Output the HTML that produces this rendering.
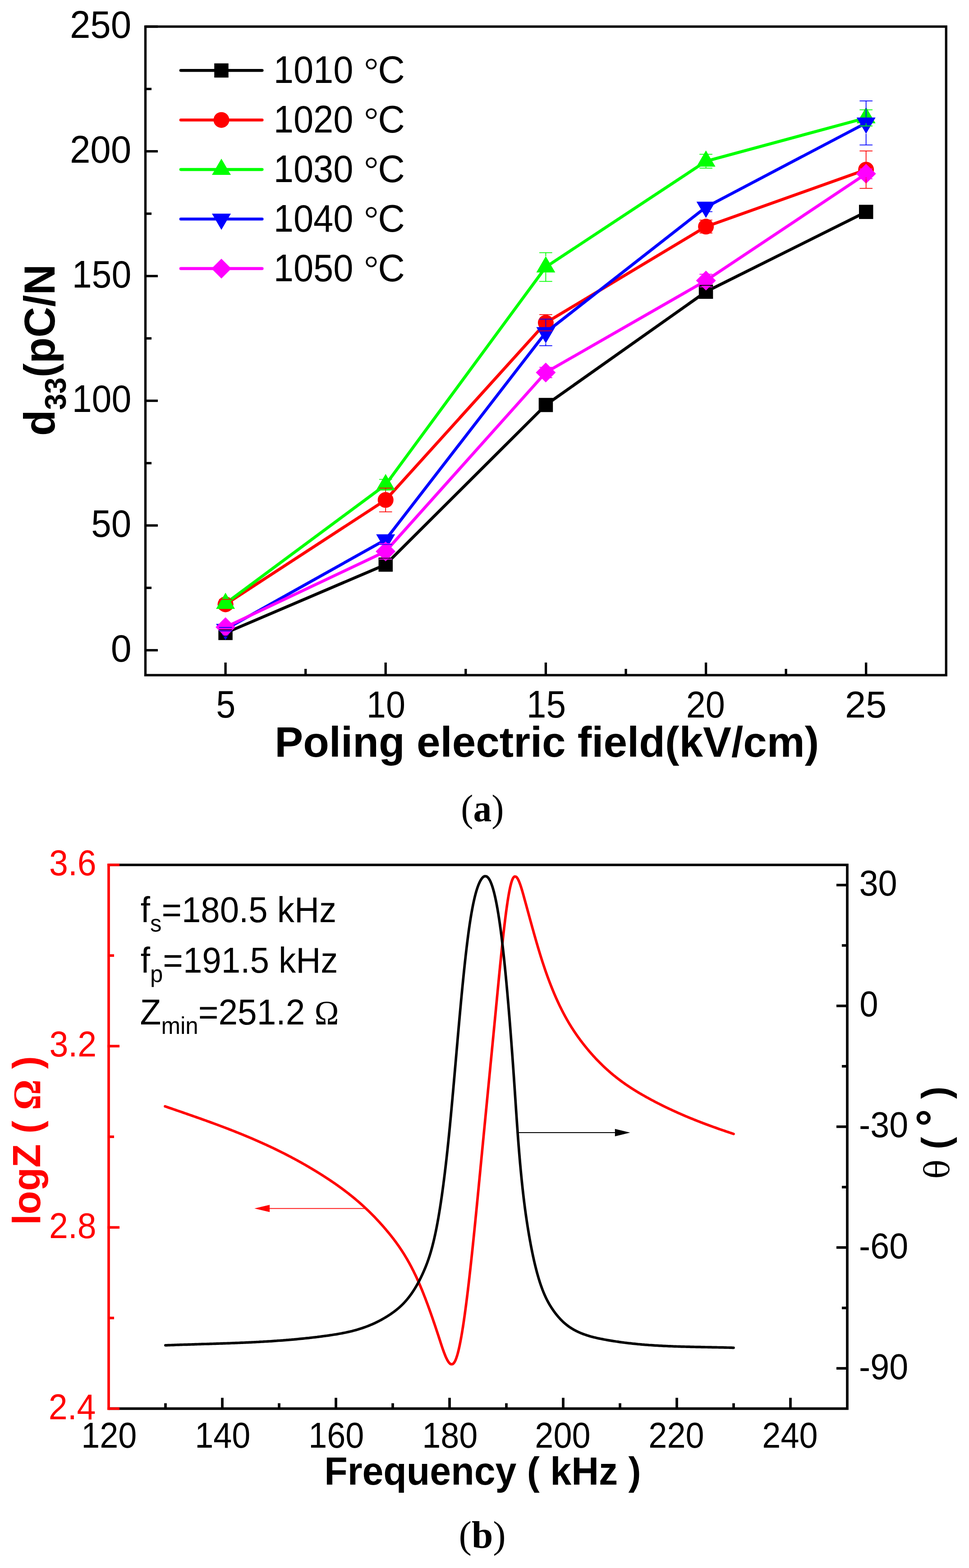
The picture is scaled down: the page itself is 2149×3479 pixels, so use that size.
<!DOCTYPE html>
<html><head><meta charset="utf-8"><title>Figure</title>
<style>html,body{margin:0;padding:0;background:#fff;}svg{display:block;}</style>
</head><body>
<svg width="2149" height="3479" viewBox="0 0 2149 3479">
<rect width="2149" height="3479" fill="#fff"/>
<rect x="322.5" y="59.0" width="1775.8" height="1439.0" fill="none" stroke="#000" stroke-width="5.3"/>
<line x1="322.5" y1="1442.7" x2="350.0" y2="1442.7" stroke="#000" stroke-width="5.3"/>
<line x1="322.5" y1="1165.9" x2="350.0" y2="1165.9" stroke="#000" stroke-width="5.3"/>
<line x1="322.5" y1="889.2" x2="350.0" y2="889.2" stroke="#000" stroke-width="5.3"/>
<line x1="322.5" y1="612.5" x2="350.0" y2="612.5" stroke="#000" stroke-width="5.3"/>
<line x1="322.5" y1="335.7" x2="350.0" y2="335.7" stroke="#000" stroke-width="5.3"/>
<line x1="322.5" y1="59.0" x2="350.0" y2="59.0" stroke="#000" stroke-width="5.3"/>
<line x1="322.5" y1="1304.3" x2="336.0" y2="1304.3" stroke="#000" stroke-width="5.3"/>
<line x1="322.5" y1="1027.6" x2="336.0" y2="1027.6" stroke="#000" stroke-width="5.3"/>
<line x1="322.5" y1="750.8" x2="336.0" y2="750.8" stroke="#000" stroke-width="5.3"/>
<line x1="322.5" y1="474.1" x2="336.0" y2="474.1" stroke="#000" stroke-width="5.3"/>
<line x1="322.5" y1="197.4" x2="336.0" y2="197.4" stroke="#000" stroke-width="5.3"/>
<line x1="500.1" y1="1498.0" x2="500.1" y2="1470.0" stroke="#000" stroke-width="5.3"/>
<line x1="855.2" y1="1498.0" x2="855.2" y2="1470.0" stroke="#000" stroke-width="5.3"/>
<line x1="1210.4" y1="1498.0" x2="1210.4" y2="1470.0" stroke="#000" stroke-width="5.3"/>
<line x1="1565.6" y1="1498.0" x2="1565.6" y2="1470.0" stroke="#000" stroke-width="5.3"/>
<line x1="1920.7" y1="1498.0" x2="1920.7" y2="1470.0" stroke="#000" stroke-width="5.3"/>
<line x1="677.7" y1="1498.0" x2="677.7" y2="1484.0" stroke="#000" stroke-width="5.3"/>
<line x1="1032.8" y1="1498.0" x2="1032.8" y2="1484.0" stroke="#000" stroke-width="5.3"/>
<line x1="1388.0" y1="1498.0" x2="1388.0" y2="1484.0" stroke="#000" stroke-width="5.3"/>
<line x1="1743.1" y1="1498.0" x2="1743.1" y2="1484.0" stroke="#000" stroke-width="5.3"/>
<polyline points="500.1,1404.4 855.2,1252.7 1210.4,898.5 1565.6,647.2 1920.7,470.2" fill="none" stroke="#000000" stroke-width="6.6" stroke-linejoin="round"/>
<rect x="484.3" y="1388.7" width="31.5" height="31.5" fill="#000000"/>
<rect x="839.5" y="1237.0" width="31.5" height="31.5" fill="#000000"/>
<rect x="1194.7" y="882.8" width="31.5" height="31.5" fill="#000000"/>
<rect x="1549.8" y="631.5" width="31.5" height="31.5" fill="#000000"/>
<rect x="1905.0" y="454.4" width="31.5" height="31.5" fill="#000000"/>
<polyline points="500.1,1340.9 855.2,1109.3 1210.4,716.1 1565.6,502.8 1920.7,376.4" fill="none" stroke="#ff0000" stroke-width="6.6" stroke-linejoin="round"/>
<circle cx="500.1" cy="1340.9" r="17.5" fill="#ff0000"/>
<circle cx="855.2" cy="1109.3" r="17.5" fill="#ff0000"/>
<circle cx="1210.4" cy="716.1" r="17.5" fill="#ff0000"/>
<circle cx="1565.6" cy="502.8" r="17.5" fill="#ff0000"/>
<circle cx="1920.7" cy="376.4" r="17.5" fill="#ff0000"/>
<polyline points="500.1,1338.9 855.2,1075.5 1210.4,592.5 1565.6,357.8 1920.7,261.6" fill="none" stroke="#00ff00" stroke-width="6.6" stroke-linejoin="round"/>
<polygon points="500.1,1314.9 521.1,1350.9 479.1,1350.9" fill="#00ff00"/>
<polygon points="855.2,1051.5 876.2,1087.5 834.2,1087.5" fill="#00ff00"/>
<polygon points="1210.4,568.5 1231.4,604.5 1189.4,604.5" fill="#00ff00"/>
<polygon points="1565.6,333.8 1586.6,369.8 1544.6,369.8" fill="#00ff00"/>
<polygon points="1920.7,237.6 1941.7,273.6 1899.7,273.6" fill="#00ff00"/>
<polyline points="500.1,1396.2 855.2,1197.4 1210.4,737.7 1565.6,459.6 1920.7,272.8" fill="none" stroke="#0000ff" stroke-width="6.6" stroke-linejoin="round"/>
<polygon points="500.1,1420.2 521.1,1384.2 479.1,1384.2" fill="#0000ff"/>
<polygon points="855.2,1221.4 876.2,1185.4 834.2,1185.4" fill="#0000ff"/>
<polygon points="1210.4,761.7 1231.4,725.7 1189.4,725.7" fill="#0000ff"/>
<polygon points="1565.6,483.6 1586.6,447.6 1544.6,447.6" fill="#0000ff"/>
<polygon points="1920.7,296.8 1941.7,260.8 1899.7,260.8" fill="#0000ff"/>
<polyline points="500.1,1391.6 855.2,1223.5 1210.4,826.4 1565.6,622.6 1920.7,385.6" fill="none" stroke="#ff00ff" stroke-width="6.6" stroke-linejoin="round"/>
<polygon points="500.1,1369.6 522.1,1391.6 500.1,1413.6 478.1,1391.6" fill="#ff00ff"/>
<polygon points="855.2,1201.5 877.2,1223.5 855.2,1245.5 833.2,1223.5" fill="#ff00ff"/>
<polygon points="1210.4,804.4 1232.4,826.4 1210.4,848.4 1188.4,826.4" fill="#ff00ff"/>
<polygon points="1565.6,600.6 1587.6,622.6 1565.6,644.6 1543.6,622.6" fill="#ff00ff"/>
<polygon points="1920.7,363.6 1942.7,385.6 1920.7,407.6 1898.7,385.6" fill="#ff00ff"/>
<path d="M485.8 1397.4H514.4M485.8 1411.4H514.4" stroke="#000000" stroke-width="1.8" fill="none"/>
<path d="M840.9 1238.7H869.5M840.9 1266.7H869.5" stroke="#000000" stroke-width="1.8" fill="none"/>
<path d="M1196.1 884.5H1224.7M1196.1 912.5H1224.7" stroke="#000000" stroke-width="1.8" fill="none"/>
<path d="M1551.3 633.2H1579.9M1551.3 661.2H1579.9" stroke="#000000" stroke-width="1.8" fill="none"/>
<path d="M1906.4 456.2H1935.0M1906.4 484.2H1935.0" stroke="#000000" stroke-width="1.8" fill="none"/>
<path d="M485.8 1329.9H514.4M485.8 1351.9H514.4" stroke="#ff0000" stroke-width="1.8" fill="none"/>
<path d="M840.9 1082.9H869.5M840.9 1135.7H869.5M855.2 1082.9V1091.8M855.2 1126.8V1135.7" stroke="#ff0000" stroke-width="1.8" fill="none"/>
<path d="M1196.1 698.1H1224.7M1196.1 734.1H1224.7M1210.4 698.1V698.6M1210.4 733.6V734.1" stroke="#ff0000" stroke-width="1.8" fill="none"/>
<path d="M1551.3 488.4H1579.9M1551.3 517.2H1579.9" stroke="#ff0000" stroke-width="1.8" fill="none"/>
<path d="M1906.4 334.9H1935.0M1906.4 417.9H1935.0M1920.7 334.9V358.9M1920.7 393.9V417.9" stroke="#ff0000" stroke-width="1.8" fill="none"/>
<path d="M840.9 1063.6H869.5M840.9 1087.4H869.5" stroke="#00ff00" stroke-width="1.8" fill="none"/>
<path d="M1196.1 560.6H1224.7M1196.1 624.4H1224.7M1210.4 560.6V568.5M1210.4 604.5V624.4" stroke="#00ff00" stroke-width="1.8" fill="none"/>
<path d="M1551.3 342.4H1579.9M1551.3 373.2H1579.9M1565.6 369.8V373.2" stroke="#00ff00" stroke-width="1.8" fill="none"/>
<path d="M1906.4 243.7H1935.0M1906.4 279.5H1935.0M1920.7 273.6V279.5" stroke="#00ff00" stroke-width="1.8" fill="none"/>
<path d="M485.8 1392.2H514.4M485.8 1400.2H514.4" stroke="#0000ff" stroke-width="1.8" fill="none"/>
<path d="M840.9 1186.8H869.5M840.9 1208.0H869.5" stroke="#0000ff" stroke-width="1.8" fill="none"/>
<path d="M1196.1 708.2H1224.7M1196.1 767.2H1224.7M1210.4 708.2V725.7M1210.4 761.7V767.2" stroke="#0000ff" stroke-width="1.8" fill="none"/>
<path d="M1551.3 449.5H1579.9M1551.3 469.7H1579.9" stroke="#0000ff" stroke-width="1.8" fill="none"/>
<path d="M1906.4 223.9H1935.0M1906.4 321.7H1935.0M1920.7 223.9V260.8M1920.7 296.8V321.7" stroke="#0000ff" stroke-width="1.8" fill="none"/>
<path d="M840.9 1206.5H869.5M840.9 1240.5H869.5" stroke="#ff00ff" stroke-width="1.8" fill="none"/>
<path d="M1196.1 814.8H1224.7M1196.1 838.0H1224.7" stroke="#ff00ff" stroke-width="1.8" fill="none"/>
<path d="M1551.3 608.5H1579.9M1551.3 636.7H1579.9" stroke="#ff00ff" stroke-width="1.8" fill="none"/>
<path d="M1906.4 374.6H1935.0M1906.4 396.6H1935.0" stroke="#ff00ff" stroke-width="1.8" fill="none"/>
<line x1="401" y1="156.3" x2="581.2" y2="156.3" stroke="#000000" stroke-width="6.6" stroke-linecap="round"/>
<rect x="475.2" y="140.6" width="31.5" height="31.5" fill="#000000"/>
<line x1="401" y1="266.2" x2="581.2" y2="266.2" stroke="#ff0000" stroke-width="6.6" stroke-linecap="round"/>
<circle cx="491.0" cy="266.2" r="17.5" fill="#ff0000"/>
<line x1="401" y1="376.1" x2="581.2" y2="376.1" stroke="#00ff00" stroke-width="6.6" stroke-linecap="round"/>
<polygon points="491.0,352.1 512.0,388.1 470.0,388.1" fill="#00ff00"/>
<line x1="401" y1="486.0" x2="581.2" y2="486.0" stroke="#0000ff" stroke-width="6.6" stroke-linecap="round"/>
<polygon points="491.0,510.0 512.0,474.0 470.0,474.0" fill="#0000ff"/>
<line x1="401" y1="595.9" x2="581.2" y2="595.9" stroke="#ff00ff" stroke-width="6.6" stroke-linecap="round"/>
<polygon points="491.0,573.9 513.0,595.9 491.0,617.9 469.0,595.9" fill="#ff00ff"/>
<path d="M241.0 1919.0H1879.0V3125.4H241.0" fill="none" stroke="#000" stroke-width="5.7"/>
<line x1="241.0" y1="1916.2" x2="241.0" y2="3128.2" stroke="#ff0000" stroke-width="5.7"/>
<line x1="238.2" y1="3125.4" x2="265.0" y2="3125.4" stroke="#ff0000" stroke-width="5.7"/>
<line x1="238.2" y1="2723.3" x2="265.0" y2="2723.3" stroke="#ff0000" stroke-width="5.7"/>
<line x1="238.2" y1="2321.1" x2="265.0" y2="2321.1" stroke="#ff0000" stroke-width="5.7"/>
<line x1="238.2" y1="1919.0" x2="265.0" y2="1919.0" stroke="#ff0000" stroke-width="5.7"/>
<line x1="241.0" y1="2924.3" x2="253.0" y2="2924.3" stroke="#ff0000" stroke-width="5.7"/>
<line x1="241.0" y1="2522.2" x2="253.0" y2="2522.2" stroke="#ff0000" stroke-width="5.7"/>
<line x1="241.0" y1="2120.1" x2="253.0" y2="2120.1" stroke="#ff0000" stroke-width="5.7"/>
<line x1="1879.0" y1="1963.7" x2="1855.0" y2="1963.7" stroke="#000" stroke-width="5.7"/>
<line x1="1879.0" y1="2231.8" x2="1855.0" y2="2231.8" stroke="#000" stroke-width="5.7"/>
<line x1="1879.0" y1="2499.9" x2="1855.0" y2="2499.9" stroke="#000" stroke-width="5.7"/>
<line x1="1879.0" y1="2767.9" x2="1855.0" y2="2767.9" stroke="#000" stroke-width="5.7"/>
<line x1="1879.0" y1="3036.0" x2="1855.0" y2="3036.0" stroke="#000" stroke-width="5.7"/>
<line x1="1879.0" y1="2097.7" x2="1867.0" y2="2097.7" stroke="#000" stroke-width="5.7"/>
<line x1="1879.0" y1="2365.8" x2="1867.0" y2="2365.8" stroke="#000" stroke-width="5.7"/>
<line x1="1879.0" y1="2633.9" x2="1867.0" y2="2633.9" stroke="#000" stroke-width="5.7"/>
<line x1="1879.0" y1="2902.0" x2="1867.0" y2="2902.0" stroke="#000" stroke-width="5.7"/>
<line x1="493.0" y1="3125.4" x2="493.0" y2="3101.4" stroke="#000" stroke-width="5.7"/>
<line x1="745.0" y1="3125.4" x2="745.0" y2="3101.4" stroke="#000" stroke-width="5.7"/>
<line x1="997.0" y1="3125.4" x2="997.0" y2="3101.4" stroke="#000" stroke-width="5.7"/>
<line x1="1249.0" y1="3125.4" x2="1249.0" y2="3101.4" stroke="#000" stroke-width="5.7"/>
<line x1="1501.0" y1="3125.4" x2="1501.0" y2="3101.4" stroke="#000" stroke-width="5.7"/>
<line x1="1753.0" y1="3125.4" x2="1753.0" y2="3101.4" stroke="#000" stroke-width="5.7"/>
<line x1="367.0" y1="3125.4" x2="367.0" y2="3113.4" stroke="#000" stroke-width="5.7"/>
<line x1="619.0" y1="3125.4" x2="619.0" y2="3113.4" stroke="#000" stroke-width="5.7"/>
<line x1="871.0" y1="3125.4" x2="871.0" y2="3113.4" stroke="#000" stroke-width="5.7"/>
<line x1="1123.0" y1="3125.4" x2="1123.0" y2="3113.4" stroke="#000" stroke-width="5.7"/>
<line x1="1375.0" y1="3125.4" x2="1375.0" y2="3113.4" stroke="#000" stroke-width="5.7"/>
<line x1="1627.0" y1="3125.4" x2="1627.0" y2="3113.4" stroke="#000" stroke-width="5.7"/>
<path d="M366.0 2454.7 L368.0 2455.4 L370.0 2456.1 L372.0 2456.8 L374.0 2457.5 L376.0 2458.2 L378.0 2458.8 L380.0 2459.5 L382.0 2460.2 L384.0 2460.9 L386.0 2461.6 L388.0 2462.3 L390.0 2463.0 L392.0 2463.7 L394.0 2464.4 L396.0 2465.1 L398.0 2465.7 L400.0 2466.4 L402.0 2467.1 L404.0 2467.8 L406.0 2468.5 L408.0 2469.2 L410.0 2469.9 L412.0 2470.6 L414.0 2471.3 L416.0 2472.0 L418.0 2472.7 L420.0 2473.4 L422.0 2474.1 L424.0 2474.8 L426.0 2475.5 L428.0 2476.2 L430.0 2476.9 L432.0 2477.6 L434.0 2478.3 L436.0 2479.0 L438.0 2479.7 L440.0 2480.4 L442.0 2481.1 L444.0 2481.8 L446.0 2482.5 L448.0 2483.3 L450.0 2484.0 L452.0 2484.7 L454.0 2485.4 L456.0 2486.1 L458.0 2486.8 L460.0 2487.6 L462.0 2488.3 L464.0 2489.0 L466.0 2489.7 L468.0 2490.5 L470.0 2491.2 L472.0 2491.9 L474.0 2492.7 L476.0 2493.4 L478.0 2494.1 L480.0 2494.9 L482.0 2495.6 L484.0 2496.4 L486.0 2497.1 L488.0 2497.9 L490.0 2498.6 L492.0 2499.4 L494.0 2500.1 L496.0 2500.9 L498.0 2501.6 L500.0 2502.4 L502.0 2503.2 L504.0 2503.9 L506.0 2504.7 L508.0 2505.5 L510.0 2506.3 L512.0 2507.0 L514.0 2507.8 L516.0 2508.6 L518.0 2509.4 L520.0 2510.2 L522.0 2511.0 L524.0 2511.8 L526.0 2512.6 L527.5 2513.2 L529.0 2513.8 L530.5 2514.4 L532.0 2515.0 L533.5 2515.6 L535.0 2516.2 L536.5 2516.8 L538.0 2517.4 L539.5 2518.0 L541.0 2518.7 L542.5 2519.3 L544.0 2519.9 L545.5 2520.5 L547.0 2521.2 L548.5 2521.8 L550.0 2522.4 L551.5 2523.0 L553.0 2523.7 L554.5 2524.3 L556.0 2524.9 L557.5 2525.6 L559.0 2526.2 L560.5 2526.9 L562.0 2527.5 L563.5 2528.2 L565.0 2528.8 L566.5 2529.5 L568.0 2530.1 L569.5 2530.8 L571.0 2531.4 L572.5 2532.1 L574.0 2532.8 L575.5 2533.4 L577.0 2534.1 L578.5 2534.8 L580.0 2535.4 L581.5 2536.1 L583.0 2536.8 L584.5 2537.5 L586.0 2538.1 L587.5 2538.8 L589.0 2539.5 L590.5 2540.2 L592.0 2540.9 L593.5 2541.6 L595.0 2542.3 L596.5 2543.0 L598.0 2543.7 L599.5 2544.4 L601.0 2545.1 L602.5 2545.8 L604.0 2546.5 L605.5 2547.2 L607.0 2547.9 L608.5 2548.7 L610.0 2549.4 L611.5 2550.1 L613.0 2550.8 L614.5 2551.6 L616.0 2552.3 L617.5 2553.0 L619.0 2553.8 L620.5 2554.5 L622.0 2555.3 L623.5 2556.0 L625.0 2556.8 L626.5 2557.5 L628.0 2558.3 L629.5 2559.0 L631.0 2559.8 L632.5 2560.6 L634.0 2561.3 L635.5 2562.1 L637.0 2562.9 L638.5 2563.6 L640.0 2564.4 L641.5 2565.2 L643.0 2566.0 L644.5 2566.8 L646.0 2567.6 L647.5 2568.4 L649.0 2569.2 L650.5 2570.0 L652.0 2570.8 L653.5 2571.6 L655.0 2572.4 L656.5 2573.2 L658.0 2574.0 L659.5 2574.8 L661.0 2575.7 L662.5 2576.5 L664.0 2577.3 L665.5 2578.2 L667.0 2579.0 L668.5 2579.8 L670.0 2580.7 L671.5 2581.5 L673.0 2582.4 L674.5 2583.2 L676.0 2584.1 L677.5 2584.9 L679.0 2585.8 L680.5 2586.7 L682.0 2587.6 L683.5 2588.4 L685.0 2589.3 L686.5 2590.2 L688.0 2591.1 L689.5 2592.0 L691.0 2592.9 L692.5 2593.8 L694.0 2594.7 L695.0 2595.3 L696.0 2595.9 L697.0 2596.5 L698.0 2597.1 L699.0 2597.7 L700.0 2598.3 L701.0 2598.9 L702.0 2599.5 L703.0 2600.1 L704.0 2600.8 L705.0 2601.4 L706.0 2602.0 L707.0 2602.6 L708.0 2603.2 L709.0 2603.9 L710.0 2604.5 L711.0 2605.1 L712.0 2605.7 L713.0 2606.4 L714.0 2607.0 L715.0 2607.7 L716.0 2608.3 L717.0 2608.9 L718.0 2609.6 L719.0 2610.2 L720.0 2610.9 L721.0 2611.5 L722.0 2612.2 L723.0 2612.8 L724.0 2613.5 L725.0 2614.1 L726.0 2614.8 L727.0 2615.4 L728.0 2616.1 L729.0 2616.7 L730.0 2617.4 L731.0 2618.1 L732.0 2618.7 L733.0 2619.4 L734.0 2620.1 L735.0 2620.8 L736.0 2621.4 L737.0 2622.1 L738.0 2622.8 L739.0 2623.5 L740.0 2624.2 L741.0 2624.9 L742.0 2625.5 L743.0 2626.2 L744.0 2626.9 L745.0 2627.6 L746.0 2628.3 L747.0 2629.0 L748.0 2629.7 L749.0 2630.4 L750.0 2631.2 L751.0 2631.9 L752.0 2632.6 L753.0 2633.3 L754.0 2634.0 L755.0 2634.8 L756.0 2635.5 L757.0 2636.2 L758.0 2636.9 L759.0 2637.7 L760.0 2638.4 L761.0 2639.2 L762.0 2639.9 L763.0 2640.7 L764.0 2641.4 L765.0 2642.2 L766.0 2642.9 L767.0 2643.7 L768.0 2644.5 L769.0 2645.2 L770.0 2646.0 L771.0 2646.8 L772.0 2647.5 L773.0 2648.3 L774.0 2649.1 L775.0 2649.9 L776.0 2650.7 L777.0 2651.5 L778.0 2652.3 L779.0 2653.1 L780.0 2653.9 L781.0 2654.7 L782.0 2655.5 L783.0 2656.3 L784.0 2657.2 L785.0 2658.0 L786.0 2658.8 L787.0 2659.6 L788.0 2660.5 L789.0 2661.3 L790.0 2662.2 L791.0 2663.0 L792.0 2663.9 L793.0 2664.7 L794.0 2665.6 L795.0 2666.4 L796.0 2667.3 L797.0 2668.2 L798.0 2669.1 L799.0 2669.9 L800.0 2670.8 L801.0 2671.7 L802.0 2672.6 L803.0 2673.5 L804.0 2674.4 L805.0 2675.3 L806.0 2676.2 L807.0 2677.2 L808.0 2678.1 L809.0 2679.0 L810.0 2679.9 L811.0 2680.9 L812.0 2681.8 L813.0 2682.8 L814.0 2683.7 L815.0 2684.7 L816.0 2685.6 L817.0 2686.6 L818.0 2687.6 L819.0 2688.5 L820.0 2689.5 L821.0 2690.5 L822.0 2691.5 L823.0 2692.5 L824.0 2693.5 L825.0 2694.5 L826.0 2695.5 L827.0 2696.5 L828.0 2697.5 L829.0 2698.5 L830.0 2699.6 L831.0 2700.6 L832.0 2701.6 L833.0 2702.7 L834.0 2703.7 L835.0 2704.8 L836.0 2705.9 L837.0 2706.9 L838.0 2708.0 L839.0 2709.1 L840.0 2710.2 L841.0 2711.2 L842.0 2712.3 L843.0 2713.4 L844.0 2714.6 L845.0 2715.7 L846.0 2716.8 L847.0 2717.9 L848.0 2719.0 L849.0 2720.2 L850.0 2721.3 L851.0 2722.5 L852.0 2723.6 L853.0 2724.8 L854.0 2725.9 L855.0 2727.1 L856.0 2728.3 L857.0 2729.5 L858.0 2730.7 L859.0 2731.9 L859.5 2732.5 L860.0 2733.1 L860.5 2733.7 L861.0 2734.3 L861.5 2734.9 L862.0 2735.5 L862.5 2736.1 L863.0 2736.7 L863.5 2737.3 L864.0 2737.9 L864.5 2738.6 L865.0 2739.2 L865.5 2739.8 L866.0 2740.4 L866.5 2741.0 L867.0 2741.7 L867.5 2742.3 L868.0 2742.9 L868.5 2743.6 L869.0 2744.2 L869.5 2744.8 L870.0 2745.5 L870.5 2746.1 L871.0 2746.8 L871.5 2747.4 L872.0 2748.1 L872.5 2748.7 L873.0 2749.4 L873.5 2750.0 L874.0 2750.7 L874.5 2751.3 L875.0 2752.0 L875.5 2752.7 L876.0 2753.3 L876.5 2754.0 L877.0 2754.7 L877.5 2755.4 L878.0 2756.0 L878.5 2756.7 L879.0 2757.4 L879.5 2758.1 L880.0 2758.8 L880.5 2759.5 L881.0 2760.2 L881.5 2760.9 L882.0 2761.6 L882.5 2762.3 L883.0 2763.0 L883.5 2763.7 L884.0 2764.4 L884.5 2765.1 L885.0 2765.9 L885.5 2766.6 L886.0 2767.3 L886.5 2768.0 L887.0 2768.8 L887.5 2769.5 L888.0 2770.3 L888.5 2771.0 L889.0 2771.8 L889.5 2772.5 L890.0 2773.3 L890.5 2774.0 L891.0 2774.8 L891.5 2775.6 L892.0 2776.3 L892.5 2777.1 L893.0 2777.9 L893.5 2778.7 L894.0 2779.4 L894.5 2780.2 L895.0 2781.0 L895.5 2781.8 L896.0 2782.6 L896.5 2783.4 L897.0 2784.2 L897.5 2785.1 L898.0 2785.9 L898.5 2786.7 L899.0 2787.5 L899.5 2788.4 L900.0 2789.2 L900.5 2790.0 L901.0 2790.9 L901.5 2791.7 L902.0 2792.6 L902.5 2793.4 L903.0 2794.3 L903.5 2795.1 L904.0 2796.0 L904.5 2796.9 L905.0 2797.8 L905.5 2798.7 L906.0 2799.5 L906.5 2800.4 L907.0 2801.3 L907.5 2802.2 L908.0 2803.1 L908.5 2804.1 L909.0 2805.0 L909.5 2805.9 L910.0 2806.8 L910.5 2807.8 L911.0 2808.7 L911.5 2809.6 L912.0 2810.6 L912.5 2811.5 L913.0 2812.5 L913.5 2813.5 L914.0 2814.4 L914.5 2815.4 L915.0 2816.4 L915.5 2817.4 L916.0 2818.3 L916.5 2819.3 L917.0 2820.3 L917.5 2821.3 L918.0 2822.4 L918.5 2823.4 L919.0 2824.4 L919.5 2825.4 L920.0 2826.5 L920.5 2827.5 L921.0 2828.5 L921.5 2829.6 L922.0 2830.6 L922.5 2831.7 L923.0 2832.8 L923.5 2833.8 L924.0 2834.9 L924.5 2836.0 L925.0 2837.1 L925.5 2838.2 L926.0 2839.3 L926.5 2840.4 L927.0 2841.5 L927.5 2842.6 L928.0 2843.8 L928.5 2844.9 L929.0 2846.0 L929.5 2847.2 L930.0 2848.3 L930.5 2849.5 L931.0 2850.7 L931.5 2851.8 L932.0 2853.0 L932.5 2854.2 L933.0 2855.4 L933.5 2856.6 L934.0 2857.8 L934.5 2859.0 L935.0 2860.2 L935.5 2861.4 L936.0 2862.6 L936.5 2863.9 L937.0 2865.1 L937.5 2866.3 L938.0 2867.6 L938.5 2868.8 L939.0 2870.1 L939.5 2871.4 L940.0 2872.6 L940.5 2873.9 L941.0 2875.2 L941.5 2876.5 L942.0 2877.7 L942.5 2879.0 L943.0 2880.3 L943.5 2881.6 L944.0 2882.9 L944.5 2884.3 L945.0 2885.6 L945.5 2886.9 L946.0 2888.2 L946.5 2889.6 L947.0 2890.9 L947.5 2892.2 L948.0 2893.6 L948.5 2894.9 L949.0 2896.3 L949.5 2897.6 L950.0 2899.0 L950.5 2900.4 L951.0 2901.8 L951.5 2903.1 L952.0 2904.5 L952.5 2905.9 L953.0 2907.3 L953.5 2908.7 L954.0 2910.1 L954.5 2911.5 L955.0 2912.9 L955.5 2914.3 L956.0 2915.7 L956.5 2917.1 L957.0 2918.6 L957.5 2920.0 L958.0 2921.4 L958.5 2922.9 L959.0 2924.3 L959.5 2925.7 L960.0 2927.2 L960.5 2928.6 L961.0 2930.1 L961.5 2931.6 L962.0 2933.0 L962.5 2934.5 L963.0 2936.0 L963.5 2937.4 L964.0 2938.9 L964.5 2940.4 L965.0 2941.9 L965.5 2943.3 L966.0 2944.8 L966.5 2946.3 L967.0 2947.8 L967.5 2949.3 L968.0 2950.8 L968.5 2952.3 L969.0 2953.8 L969.5 2955.3 L970.0 2956.8 L970.5 2958.4 L971.0 2959.9 L971.5 2961.4 L972.0 2962.9 L972.5 2964.4 L973.0 2966.0 L973.5 2967.5 L974.0 2969.0 L974.5 2970.6 L975.0 2972.1 L975.5 2973.7 L976.0 2975.2 L976.5 2976.7 L977.0 2978.3 L977.5 2979.8 L978.0 2981.3 L978.5 2982.8 L979.0 2984.3 L979.5 2985.8 L980.0 2987.3 L980.5 2988.8 L981.0 2990.3 L981.5 2991.8 L982.0 2993.2 L982.5 2994.6 L983.0 2996.0 L983.5 2997.4 L984.0 2998.8 L984.5 3000.2 L985.0 3001.5 L985.5 3002.8 L986.0 3004.1 L986.5 3005.4 L987.0 3006.6 L987.5 3007.9 L988.0 3009.1 L988.5 3010.2 L989.0 3011.4 L989.5 3012.5 L990.0 3013.5 L990.5 3014.6 L991.0 3015.6 L991.5 3016.6 L992.0 3017.5 L992.5 3018.4 L993.0 3019.3 L993.5 3020.1 L994.0 3020.9 L994.5 3021.6 L995.0 3022.3 L995.5 3023.0 L996.0 3023.6 L997.0 3024.7 L998.0 3025.6 L999.0 3026.3 L1000.5 3026.9 L1003.5 3026.7 L1005.0 3025.8 L1006.0 3024.8 L1007.0 3023.6 L1007.5 3022.9 L1008.0 3022.1 L1008.5 3021.2 L1009.0 3020.3 L1009.5 3019.3 L1010.0 3018.2 L1010.5 3017.1 L1011.0 3015.8 L1011.5 3014.5 L1012.0 3013.2 L1012.5 3011.7 L1013.0 3010.2 L1013.5 3008.6 L1014.0 3007.0 L1014.5 3005.2 L1015.0 3003.5 L1015.5 3001.6 L1016.0 2999.7 L1016.5 2997.7 L1017.0 2995.6 L1017.5 2993.5 L1018.0 2991.3 L1018.5 2989.1 L1019.0 2986.8 L1019.5 2984.4 L1020.0 2982.0 L1020.5 2979.5 L1021.0 2976.9 L1021.5 2974.3 L1022.0 2971.7 L1022.5 2968.9 L1023.0 2966.2 L1023.5 2963.3 L1024.0 2960.4 L1024.5 2957.5 L1025.0 2954.5 L1025.5 2951.4 L1026.0 2948.3 L1026.5 2945.2 L1027.0 2942.0 L1027.5 2938.7 L1028.0 2935.4 L1028.5 2932.0 L1029.0 2928.6 L1029.5 2925.1 L1030.0 2921.6 L1030.5 2918.1 L1031.0 2914.5 L1031.5 2910.8 L1032.0 2907.2 L1032.5 2903.4 L1033.0 2899.7 L1033.5 2895.8 L1034.0 2892.0 L1034.5 2888.1 L1035.0 2884.1 L1035.5 2880.2 L1036.0 2876.1 L1036.5 2872.1 L1037.0 2868.0 L1037.5 2863.8 L1038.0 2859.7 L1038.5 2855.5 L1039.0 2851.2 L1039.5 2846.9 L1040.0 2842.6 L1040.5 2838.3 L1041.0 2833.9 L1041.5 2829.5 L1042.0 2825.1 L1042.5 2820.6 L1043.0 2816.1 L1043.5 2811.6 L1044.0 2807.0 L1044.5 2802.4 L1045.0 2797.8 L1045.5 2793.2 L1046.0 2788.5 L1046.5 2783.8 L1047.0 2779.1 L1047.5 2774.4 L1048.0 2769.6 L1048.5 2764.8 L1049.0 2760.0 L1049.5 2755.2 L1050.0 2750.3 L1050.5 2745.5 L1051.0 2740.6 L1051.5 2735.7 L1052.0 2730.7 L1052.5 2725.8 L1053.0 2720.8 L1053.5 2715.9 L1054.0 2710.9 L1054.5 2705.8 L1055.0 2700.8 L1055.5 2695.8 L1056.0 2690.7 L1056.5 2685.7 L1057.0 2680.6 L1057.5 2675.5 L1058.0 2670.4 L1058.5 2665.3 L1059.0 2660.2 L1059.5 2655.0 L1060.0 2649.9 L1060.5 2644.7 L1061.0 2639.6 L1061.5 2634.4 L1062.0 2629.3 L1062.5 2624.1 L1063.0 2618.9 L1063.5 2613.7 L1064.0 2608.6 L1064.5 2603.4 L1065.0 2598.2 L1065.5 2593.0 L1066.0 2587.8 L1066.5 2582.6 L1067.0 2577.4 L1067.5 2572.2 L1068.0 2567.0 L1068.5 2561.9 L1069.0 2556.7 L1069.5 2551.5 L1070.0 2546.3 L1070.5 2541.2 L1071.0 2536.0 L1071.5 2530.8 L1072.0 2525.7 L1072.5 2520.5 L1073.0 2515.3 L1073.5 2510.2 L1074.0 2505.0 L1074.5 2499.9 L1075.0 2494.7 L1075.5 2489.6 L1076.0 2484.4 L1076.5 2479.3 L1077.0 2474.2 L1077.5 2469.0 L1078.0 2463.9 L1078.5 2458.7 L1079.0 2453.6 L1079.5 2448.5 L1080.0 2443.3 L1080.5 2438.2 L1081.0 2433.0 L1081.5 2427.9 L1082.0 2422.8 L1082.5 2417.6 L1083.0 2412.5 L1083.5 2407.4 L1084.0 2402.2 L1084.5 2397.1 L1085.0 2392.0 L1085.5 2386.8 L1086.0 2381.7 L1086.5 2376.6 L1087.0 2371.4 L1087.5 2366.3 L1088.0 2361.1 L1088.5 2356.0 L1089.0 2350.9 L1089.5 2345.7 L1090.0 2340.6 L1090.5 2335.4 L1091.0 2330.3 L1091.5 2325.1 L1092.0 2319.9 L1092.5 2314.8 L1093.0 2309.6 L1093.5 2304.5 L1094.0 2299.3 L1094.5 2294.1 L1095.0 2289.0 L1095.5 2283.8 L1096.0 2278.6 L1096.5 2273.4 L1097.0 2268.2 L1097.5 2263.0 L1098.0 2257.8 L1098.5 2252.7 L1099.0 2247.5 L1099.5 2242.2 L1100.0 2237.0 L1100.5 2231.8 L1101.0 2226.6 L1101.5 2221.4 L1102.0 2216.2 L1102.5 2211.0 L1103.0 2205.8 L1103.5 2200.5 L1104.0 2195.3 L1104.5 2190.2 L1105.0 2185.0 L1105.5 2179.8 L1106.0 2174.7 L1106.5 2169.5 L1107.0 2164.4 L1107.5 2159.3 L1108.0 2154.2 L1108.5 2149.2 L1109.0 2144.1 L1109.5 2139.1 L1110.0 2134.1 L1110.5 2129.2 L1111.0 2124.3 L1111.5 2119.4 L1112.0 2114.5 L1112.5 2109.7 L1113.0 2104.9 L1113.5 2100.1 L1114.0 2095.4 L1114.5 2090.8 L1115.0 2086.1 L1115.5 2081.5 L1116.0 2077.0 L1116.5 2072.5 L1117.0 2068.1 L1117.5 2063.7 L1118.0 2059.3 L1118.5 2055.1 L1119.0 2050.8 L1119.5 2046.7 L1120.0 2042.5 L1120.5 2038.5 L1121.0 2034.5 L1121.5 2030.6 L1122.0 2026.7 L1122.5 2022.9 L1123.0 2019.2 L1123.5 2015.6 L1124.0 2012.0 L1124.5 2008.5 L1125.0 2005.1 L1125.5 2001.7 L1126.0 1998.4 L1126.5 1995.3 L1127.0 1992.1 L1127.5 1989.1 L1128.0 1986.2 L1128.5 1983.3 L1129.0 1980.6 L1129.5 1977.9 L1130.0 1975.3 L1130.5 1972.9 L1131.0 1970.5 L1131.5 1968.2 L1132.0 1966.0 L1132.5 1963.9 L1133.0 1962.0 L1133.5 1960.1 L1134.0 1958.3 L1134.5 1956.7 L1135.0 1955.1 L1135.5 1953.7 L1136.0 1952.3 L1136.5 1951.1 L1137.0 1950.0 L1137.5 1949.0 L1138.0 1948.1 L1138.5 1947.3 L1139.0 1946.7 L1140.0 1945.6 L1141.0 1944.9 L1144.0 1945.0 L1145.0 1945.7 L1146.0 1946.6 L1147.0 1947.9 L1147.5 1948.6 L1148.0 1949.4 L1148.5 1950.3 L1149.0 1951.2 L1149.5 1952.2 L1150.0 1953.3 L1150.5 1954.4 L1151.0 1955.5 L1151.5 1956.7 L1152.0 1958.0 L1152.5 1959.3 L1153.0 1960.6 L1153.5 1962.0 L1154.0 1963.4 L1154.5 1964.9 L1155.0 1966.4 L1155.5 1967.9 L1156.0 1969.5 L1156.5 1971.1 L1157.0 1972.7 L1157.5 1974.4 L1158.0 1976.1 L1158.5 1977.8 L1159.0 1979.5 L1159.5 1981.3 L1160.0 1983.0 L1160.5 1984.8 L1161.0 1986.6 L1161.5 1988.4 L1162.0 1990.2 L1162.5 1992.0 L1163.0 1993.9 L1163.5 1995.7 L1164.0 1997.5 L1164.5 1999.3 L1165.0 2001.2 L1165.5 2003.0 L1166.0 2004.8 L1166.5 2006.6 L1167.0 2008.5 L1167.5 2010.3 L1168.0 2012.1 L1168.5 2014.0 L1169.0 2015.8 L1169.5 2017.6 L1170.0 2019.5 L1170.5 2021.3 L1171.0 2023.1 L1171.5 2025.0 L1172.0 2026.8 L1172.5 2028.6 L1173.0 2030.4 L1173.5 2032.3 L1174.0 2034.1 L1174.5 2035.9 L1175.0 2037.7 L1175.5 2039.6 L1176.0 2041.4 L1176.5 2043.2 L1177.0 2045.0 L1177.5 2046.8 L1178.0 2048.7 L1178.5 2050.5 L1179.0 2052.3 L1179.5 2054.1 L1180.0 2055.9 L1180.5 2057.7 L1181.0 2059.5 L1181.5 2061.3 L1182.0 2063.1 L1182.5 2064.8 L1183.0 2066.6 L1183.5 2068.4 L1184.0 2070.2 L1184.5 2072.0 L1185.0 2073.7 L1185.5 2075.5 L1186.0 2077.3 L1186.5 2079.0 L1187.0 2080.8 L1187.5 2082.5 L1188.0 2084.3 L1188.5 2086.0 L1189.0 2087.7 L1189.5 2089.5 L1190.0 2091.2 L1190.5 2092.9 L1191.0 2094.6 L1191.5 2096.3 L1192.0 2098.0 L1192.5 2099.7 L1193.0 2101.4 L1193.5 2103.1 L1194.0 2104.8 L1194.5 2106.5 L1195.0 2108.1 L1195.5 2109.8 L1196.0 2111.4 L1196.5 2113.1 L1197.0 2114.7 L1197.5 2116.4 L1198.0 2118.0 L1198.5 2119.6 L1199.0 2121.2 L1199.5 2122.8 L1200.0 2124.4 L1200.5 2126.0 L1201.0 2127.6 L1201.5 2129.1 L1202.0 2130.7 L1202.5 2132.3 L1203.0 2133.8 L1203.5 2135.4 L1204.0 2136.9 L1204.5 2138.4 L1205.0 2139.9 L1205.5 2141.4 L1206.0 2142.9 L1206.5 2144.4 L1207.0 2145.9 L1207.5 2147.4 L1208.0 2148.9 L1208.5 2150.3 L1209.0 2151.8 L1209.5 2153.3 L1210.0 2154.7 L1210.5 2156.1 L1211.0 2157.6 L1211.5 2159.0 L1212.0 2160.4 L1212.5 2161.8 L1213.0 2163.2 L1213.5 2164.6 L1214.0 2166.0 L1214.5 2167.3 L1215.0 2168.7 L1215.5 2170.1 L1216.0 2171.4 L1216.5 2172.8 L1217.0 2174.1 L1217.5 2175.5 L1218.0 2176.8 L1218.5 2178.1 L1219.0 2179.4 L1219.5 2180.7 L1220.0 2182.0 L1220.5 2183.3 L1221.0 2184.6 L1221.5 2185.9 L1222.0 2187.2 L1222.5 2188.4 L1223.0 2189.7 L1223.5 2190.9 L1224.0 2192.2 L1224.5 2193.4 L1225.0 2194.7 L1225.5 2195.9 L1226.0 2197.1 L1226.5 2198.3 L1227.0 2199.5 L1227.5 2200.7 L1228.0 2201.9 L1228.5 2203.1 L1229.0 2204.3 L1229.5 2205.5 L1230.0 2206.7 L1230.5 2207.8 L1231.0 2209.0 L1231.5 2210.1 L1232.0 2211.3 L1232.5 2212.4 L1233.0 2213.6 L1233.5 2214.7 L1234.0 2215.8 L1234.5 2216.9 L1235.0 2218.0 L1235.5 2219.1 L1236.0 2220.2 L1236.5 2221.3 L1237.0 2222.4 L1237.5 2223.5 L1238.0 2224.6 L1238.5 2225.6 L1239.0 2226.7 L1239.5 2227.8 L1240.0 2228.8 L1240.5 2229.9 L1241.0 2230.9 L1241.5 2232.0 L1242.0 2233.0 L1242.5 2234.0 L1243.0 2235.0 L1243.5 2236.1 L1244.0 2237.1 L1244.5 2238.1 L1245.0 2239.1 L1245.5 2240.1 L1246.0 2241.1 L1246.5 2242.0 L1247.0 2243.0 L1247.5 2244.0 L1248.0 2245.0 L1248.5 2245.9 L1249.0 2246.9 L1249.5 2247.8 L1250.0 2248.8 L1250.5 2249.7 L1251.0 2250.7 L1251.5 2251.6 L1252.0 2252.5 L1252.5 2253.5 L1253.0 2254.4 L1253.5 2255.3 L1254.0 2256.2 L1254.5 2257.1 L1255.0 2258.0 L1255.5 2258.9 L1256.0 2259.8 L1256.5 2260.7 L1257.0 2261.6 L1257.5 2262.5 L1258.0 2263.3 L1258.5 2264.2 L1259.0 2265.1 L1259.5 2265.9 L1260.0 2266.8 L1260.5 2267.7 L1261.0 2268.5 L1261.5 2269.3 L1262.0 2270.2 L1262.5 2271.0 L1263.0 2271.9 L1263.5 2272.7 L1264.0 2273.5 L1264.5 2274.3 L1265.0 2275.1 L1265.5 2276.0 L1266.0 2276.8 L1266.5 2277.6 L1267.0 2278.4 L1267.5 2279.2 L1268.0 2280.0 L1268.5 2280.8 L1269.0 2281.5 L1269.5 2282.3 L1270.0 2283.1 L1270.5 2283.9 L1271.0 2284.6 L1271.5 2285.4 L1272.0 2286.2 L1272.5 2286.9 L1273.0 2287.7 L1273.5 2288.5 L1274.0 2289.2 L1274.5 2290.0 L1275.0 2290.7 L1275.5 2291.4 L1276.0 2292.2 L1276.5 2292.9 L1277.0 2293.6 L1277.5 2294.4 L1278.0 2295.1 L1278.5 2295.8 L1279.0 2296.5 L1279.5 2297.2 L1280.0 2298.0 L1280.5 2298.7 L1281.0 2299.4 L1281.5 2300.1 L1282.0 2300.8 L1282.5 2301.5 L1283.0 2302.2 L1283.5 2302.9 L1284.0 2303.5 L1284.5 2304.2 L1285.0 2304.9 L1285.5 2305.6 L1286.0 2306.3 L1286.5 2306.9 L1287.0 2307.6 L1287.5 2308.3 L1288.0 2309.0 L1288.5 2309.6 L1289.0 2310.3 L1289.5 2310.9 L1290.0 2311.6 L1290.5 2312.3 L1291.0 2312.9 L1291.5 2313.6 L1292.0 2314.2 L1292.5 2314.8 L1293.0 2315.5 L1293.5 2316.1 L1294.0 2316.8 L1294.5 2317.4 L1295.0 2318.0 L1295.5 2318.7 L1296.0 2319.3 L1296.5 2319.9 L1297.0 2320.6 L1297.5 2321.2 L1298.0 2321.8 L1298.5 2322.4 L1299.0 2323.1 L1299.5 2323.7 L1300.0 2324.3 L1300.5 2324.9 L1301.0 2325.5 L1301.5 2326.1 L1302.0 2326.7 L1302.5 2327.3 L1303.0 2327.9 L1303.5 2328.5 L1304.5 2329.7 L1305.5 2330.9 L1306.5 2332.1 L1307.5 2333.3 L1308.5 2334.4 L1309.5 2335.6 L1310.5 2336.7 L1311.5 2337.9 L1312.5 2339.0 L1313.5 2340.1 L1314.5 2341.2 L1315.5 2342.4 L1316.5 2343.5 L1317.5 2344.6 L1318.5 2345.6 L1319.5 2346.7 L1320.5 2347.8 L1321.5 2348.9 L1322.5 2349.9 L1323.5 2351.0 L1324.5 2352.0 L1325.5 2353.1 L1326.5 2354.1 L1327.5 2355.1 L1328.5 2356.1 L1329.5 2357.1 L1330.5 2358.2 L1331.5 2359.1 L1332.5 2360.1 L1333.5 2361.1 L1334.5 2362.1 L1335.5 2363.1 L1336.5 2364.0 L1337.5 2365.0 L1338.5 2365.9 L1339.5 2366.9 L1340.5 2367.8 L1341.5 2368.8 L1342.5 2369.7 L1343.5 2370.6 L1344.5 2371.5 L1345.5 2372.4 L1346.5 2373.3 L1347.5 2374.2 L1348.5 2375.1 L1349.5 2376.0 L1350.5 2376.9 L1351.5 2377.8 L1352.5 2378.6 L1353.5 2379.5 L1354.5 2380.4 L1355.5 2381.2 L1356.5 2382.1 L1357.5 2382.9 L1358.5 2383.7 L1359.5 2384.6 L1360.5 2385.4 L1361.5 2386.2 L1362.5 2387.0 L1363.5 2387.8 L1364.5 2388.6 L1365.5 2389.4 L1366.5 2390.2 L1367.5 2391.0 L1368.5 2391.8 L1369.5 2392.6 L1370.5 2393.3 L1371.5 2394.1 L1372.5 2394.9 L1373.5 2395.6 L1374.5 2396.4 L1375.5 2397.1 L1376.5 2397.9 L1377.5 2398.6 L1378.5 2399.3 L1379.5 2400.1 L1380.5 2400.8 L1381.5 2401.5 L1382.5 2402.2 L1383.5 2403.0 L1384.5 2403.7 L1385.5 2404.4 L1386.5 2405.1 L1387.5 2405.8 L1388.5 2406.5 L1389.5 2407.1 L1390.5 2407.8 L1391.5 2408.5 L1392.5 2409.2 L1393.5 2409.9 L1394.5 2410.5 L1395.5 2411.2 L1396.5 2411.9 L1397.5 2412.5 L1398.5 2413.2 L1399.5 2413.8 L1400.5 2414.5 L1401.5 2415.1 L1402.5 2415.8 L1403.5 2416.4 L1404.5 2417.0 L1405.5 2417.7 L1406.5 2418.3 L1407.5 2418.9 L1408.5 2419.5 L1409.5 2420.1 L1410.5 2420.8 L1411.5 2421.4 L1412.5 2422.0 L1413.5 2422.6 L1414.5 2423.2 L1415.5 2423.8 L1417.0 2424.7 L1418.5 2425.6 L1420.0 2426.5 L1421.5 2427.3 L1423.0 2428.2 L1424.5 2429.1 L1426.0 2429.9 L1427.5 2430.8 L1429.0 2431.6 L1430.5 2432.5 L1432.0 2433.3 L1433.5 2434.2 L1435.0 2435.0 L1436.5 2435.8 L1438.0 2436.6 L1439.5 2437.5 L1441.0 2438.3 L1442.5 2439.1 L1444.0 2439.9 L1445.5 2440.7 L1447.0 2441.5 L1448.5 2442.3 L1450.0 2443.1 L1451.5 2443.9 L1453.0 2444.7 L1454.5 2445.5 L1456.0 2446.2 L1457.5 2447.0 L1459.0 2447.8 L1460.5 2448.5 L1462.0 2449.3 L1463.5 2450.1 L1465.0 2450.8 L1466.5 2451.6 L1468.0 2452.3 L1469.5 2453.1 L1471.0 2453.8 L1472.5 2454.5 L1474.0 2455.3 L1475.5 2456.0 L1477.0 2456.7 L1478.5 2457.5 L1480.0 2458.2 L1481.5 2458.9 L1483.0 2459.6 L1484.5 2460.3 L1486.0 2461.0 L1487.5 2461.7 L1489.0 2462.4 L1490.5 2463.1 L1492.0 2463.8 L1493.5 2464.5 L1495.0 2465.2 L1496.5 2465.9 L1498.0 2466.6 L1499.5 2467.2 L1501.0 2467.9 L1502.5 2468.6 L1504.0 2469.3 L1505.5 2469.9 L1507.0 2470.6 L1508.5 2471.2 L1510.0 2471.9 L1511.5 2472.6 L1513.0 2473.2 L1514.5 2473.9 L1516.0 2474.5 L1517.5 2475.1 L1519.0 2475.8 L1520.5 2476.4 L1522.0 2477.1 L1523.5 2477.7 L1525.0 2478.3 L1526.5 2478.9 L1528.0 2479.6 L1529.5 2480.2 L1531.0 2480.8 L1532.5 2481.4 L1534.0 2482.0 L1535.5 2482.6 L1537.0 2483.2 L1538.5 2483.8 L1540.0 2484.5 L1542.0 2485.2 L1544.0 2486.0 L1546.0 2486.8 L1548.0 2487.6 L1550.0 2488.4 L1552.0 2489.2 L1554.0 2490.0 L1556.0 2490.7 L1558.0 2491.5 L1560.0 2492.3 L1562.0 2493.0 L1564.0 2493.8 L1566.0 2494.5 L1568.0 2495.3 L1570.0 2496.0 L1572.0 2496.7 L1574.0 2497.5 L1576.0 2498.2 L1578.0 2498.9 L1580.0 2499.7 L1582.0 2500.4 L1584.0 2501.1 L1586.0 2501.8 L1588.0 2502.5 L1590.0 2503.2 L1592.0 2504.0 L1594.0 2504.7 L1596.0 2505.4 L1598.0 2506.1 L1600.0 2506.8 L1602.0 2507.4 L1604.0 2508.1 L1606.0 2508.8 L1608.0 2509.5 L1610.0 2510.2 L1612.0 2510.9 L1614.0 2511.5 L1616.0 2512.2 L1618.0 2512.9 L1620.0 2513.6 L1622.0 2514.2 L1624.0 2514.9 L1626.0 2515.6 L1627.0 2515.9" fill="none" stroke="#ff0000" stroke-width="5.7" stroke-linejoin="round" stroke-linecap="round"/>
<path d="M366.9 2984.9 L369.9 2984.8 L372.9 2984.7 L375.9 2984.6 L378.9 2984.5 L381.9 2984.4 L384.9 2984.3 L387.9 2984.1 L390.9 2984.0 L393.9 2983.9 L396.9 2983.8 L399.9 2983.7 L402.9 2983.6 L405.9 2983.5 L408.9 2983.4 L411.9 2983.3 L414.9 2983.3 L417.9 2983.2 L420.9 2983.1 L423.9 2983.0 L426.9 2982.9 L429.9 2982.8 L432.9 2982.7 L435.9 2982.6 L438.9 2982.5 L441.9 2982.4 L444.9 2982.3 L447.9 2982.2 L450.9 2982.1 L453.9 2982.0 L456.9 2982.0 L459.9 2981.9 L462.9 2981.8 L465.9 2981.7 L468.9 2981.6 L471.9 2981.5 L474.9 2981.4 L477.9 2981.3 L480.9 2981.2 L483.9 2981.1 L486.9 2981.0 L489.9 2980.9 L492.9 2980.8 L495.9 2980.7 L498.9 2980.6 L501.9 2980.5 L504.9 2980.4 L507.9 2980.3 L510.9 2980.2 L513.9 2980.0 L516.9 2979.9 L519.9 2979.8 L522.9 2979.7 L525.9 2979.6 L528.9 2979.5 L531.9 2979.3 L534.9 2979.2 L537.9 2979.1 L540.9 2979.0 L543.9 2978.8 L546.9 2978.7 L549.9 2978.6 L552.9 2978.4 L555.9 2978.3 L558.9 2978.1 L561.9 2978.0 L564.9 2977.8 L567.9 2977.7 L570.9 2977.5 L573.9 2977.4 L576.9 2977.2 L579.9 2977.0 L582.9 2976.9 L585.9 2976.7 L588.9 2976.5 L591.9 2976.3 L594.9 2976.1 L597.9 2976.0 L600.9 2975.8 L603.9 2975.6 L606.9 2975.4 L609.9 2975.2 L612.9 2975.0 L615.9 2974.7 L618.9 2974.5 L621.9 2974.3 L624.9 2974.1 L627.9 2973.9 L630.9 2973.6 L633.9 2973.4 L636.9 2973.1 L639.9 2972.9 L642.9 2972.6 L645.9 2972.4 L648.9 2972.1 L651.9 2971.9 L654.9 2971.6 L657.9 2971.3 L660.9 2971.0 L663.9 2970.7 L666.9 2970.4 L669.9 2970.1 L672.9 2969.8 L675.9 2969.5 L678.9 2969.2 L681.9 2968.9 L684.9 2968.6 L687.9 2968.2 L690.9 2967.9 L693.9 2967.5 L696.9 2967.2 L699.9 2966.8 L702.9 2966.5 L705.9 2966.1 L708.9 2965.7 L711.9 2965.3 L714.9 2964.9 L717.9 2964.5 L720.9 2964.1 L723.9 2963.7 L726.9 2963.3 L729.9 2962.9 L732.9 2962.4 L735.9 2962.0 L738.9 2961.5 L741.9 2961.0 L744.9 2960.6 L747.9 2960.1 L750.9 2959.5 L753.9 2959.0 L756.9 2958.5 L759.9 2957.9 L762.9 2957.3 L765.9 2956.7 L768.9 2956.0 L771.9 2955.4 L774.9 2954.7 L777.9 2954.0 L780.4 2953.4 L782.9 2952.7 L785.4 2952.1 L787.9 2951.4 L790.4 2950.7 L792.9 2950.0 L795.4 2949.2 L797.4 2948.6 L799.4 2948.0 L801.4 2947.3 L803.4 2946.7 L805.4 2946.0 L807.4 2945.3 L809.4 2944.6 L811.4 2943.9 L813.4 2943.1 L815.4 2942.4 L817.4 2941.6 L818.9 2941.0 L820.4 2940.4 L821.9 2939.7 L823.4 2939.1 L824.9 2938.5 L826.4 2937.8 L827.9 2937.1 L829.4 2936.5 L830.9 2935.8 L832.4 2935.1 L833.9 2934.3 L835.4 2933.6 L836.9 2932.9 L838.4 2932.1 L839.9 2931.4 L841.4 2930.6 L842.9 2929.8 L844.4 2929.0 L845.9 2928.2 L847.4 2927.3 L848.9 2926.5 L850.4 2925.6 L851.9 2924.8 L853.4 2923.9 L854.9 2923.0 L855.9 2922.4 L856.9 2921.8 L857.9 2921.2 L858.9 2920.5 L859.9 2919.9 L860.9 2919.3 L861.9 2918.6 L862.9 2918.0 L863.9 2917.3 L864.9 2916.6 L865.9 2916.0 L866.9 2915.3 L867.9 2914.6 L868.9 2913.9 L869.9 2913.2 L870.9 2912.5 L871.9 2911.8 L872.9 2911.0 L873.9 2910.3 L874.9 2909.6 L875.9 2908.8 L876.9 2908.0 L877.9 2907.3 L878.9 2906.5 L879.9 2905.7 L880.9 2904.8 L881.9 2904.0 L882.9 2903.2 L883.9 2902.3 L884.9 2901.5 L885.9 2900.6 L886.9 2899.7 L887.9 2898.8 L888.9 2897.8 L889.9 2896.9 L890.9 2895.9 L891.9 2895.0 L892.9 2894.0 L893.9 2893.0 L894.9 2891.9 L895.9 2890.9 L896.9 2889.8 L897.9 2888.7 L898.9 2887.6 L899.9 2886.5 L900.9 2885.3 L901.9 2884.2 L902.9 2883.0 L903.4 2882.4 L903.9 2881.8 L904.4 2881.2 L904.9 2880.5 L905.4 2879.9 L905.9 2879.3 L906.4 2878.7 L906.9 2878.0 L907.4 2877.4 L907.9 2876.7 L908.4 2876.1 L908.9 2875.4 L909.4 2874.7 L909.9 2874.0 L910.4 2873.4 L910.9 2872.7 L911.4 2872.0 L911.9 2871.3 L912.4 2870.6 L912.9 2869.9 L913.4 2869.1 L913.9 2868.4 L914.4 2867.7 L914.9 2866.9 L915.4 2866.2 L915.9 2865.4 L916.4 2864.7 L916.9 2863.9 L917.4 2863.1 L917.9 2862.3 L918.4 2861.6 L918.9 2860.8 L919.4 2860.0 L919.9 2859.2 L920.4 2858.3 L920.9 2857.5 L921.4 2856.7 L921.9 2855.8 L922.4 2855.0 L922.9 2854.2 L923.4 2853.3 L923.9 2852.4 L924.4 2851.5 L924.9 2850.7 L925.4 2849.8 L925.9 2848.9 L926.4 2848.0 L926.9 2847.1 L927.4 2846.1 L927.9 2845.2 L928.4 2844.3 L928.9 2843.3 L929.4 2842.4 L929.9 2841.4 L930.4 2840.4 L930.9 2839.5 L931.4 2838.5 L931.9 2837.5 L932.4 2836.5 L932.9 2835.5 L933.4 2834.5 L933.9 2833.4 L934.4 2832.4 L934.9 2831.3 L935.4 2830.3 L935.9 2829.2 L936.4 2828.2 L936.9 2827.1 L937.4 2826.0 L937.9 2824.9 L938.4 2823.8 L938.9 2822.7 L939.4 2821.5 L939.9 2820.4 L940.4 2819.3 L940.9 2818.1 L941.4 2816.9 L941.9 2815.8 L942.4 2814.6 L942.9 2813.4 L943.4 2812.2 L943.9 2810.9 L944.4 2809.7 L944.9 2808.4 L945.4 2807.1 L945.9 2805.9 L946.4 2804.5 L946.9 2803.2 L947.4 2801.9 L947.9 2800.5 L948.4 2799.1 L948.9 2797.7 L949.4 2796.3 L949.9 2794.9 L950.4 2793.4 L950.9 2791.9 L951.4 2790.4 L951.9 2788.9 L952.4 2787.4 L952.9 2785.8 L953.4 2784.2 L953.9 2782.6 L954.4 2780.9 L954.9 2779.3 L955.4 2777.6 L955.9 2775.8 L956.4 2774.1 L956.9 2772.3 L957.4 2770.5 L957.9 2768.7 L958.4 2766.8 L958.9 2764.9 L959.4 2763.0 L959.9 2761.0 L960.4 2759.1 L960.9 2757.0 L961.4 2755.0 L961.9 2752.9 L962.4 2750.8 L962.9 2748.6 L963.4 2746.5 L963.9 2744.2 L964.4 2742.0 L964.9 2739.7 L965.4 2737.4 L965.9 2735.0 L966.4 2732.6 L966.9 2730.2 L967.4 2727.7 L967.9 2725.2 L968.4 2722.6 L968.9 2720.0 L969.4 2717.4 L969.9 2714.7 L970.4 2712.0 L970.9 2709.3 L971.4 2706.5 L971.9 2703.7 L972.4 2700.8 L972.9 2697.9 L973.4 2694.9 L973.9 2691.9 L974.4 2688.9 L974.9 2685.8 L975.4 2682.7 L975.9 2679.6 L976.4 2676.4 L976.9 2673.1 L977.4 2669.8 L977.9 2666.5 L978.4 2663.2 L978.9 2659.7 L979.4 2656.3 L979.9 2652.8 L980.4 2649.3 L980.9 2645.7 L981.4 2642.0 L981.9 2638.4 L982.4 2634.7 L982.9 2630.9 L983.4 2627.1 L983.9 2623.2 L984.4 2619.4 L984.9 2615.4 L985.4 2611.4 L985.9 2607.4 L986.4 2603.3 L986.9 2599.2 L987.4 2595.0 L987.9 2590.8 L988.4 2586.6 L988.9 2582.2 L989.4 2577.9 L989.9 2573.5 L990.4 2569.0 L990.9 2564.5 L991.4 2560.0 L991.9 2555.4 L992.4 2550.8 L992.9 2546.1 L993.4 2541.3 L993.9 2536.5 L994.4 2531.7 L994.9 2526.8 L995.4 2521.9 L995.9 2516.9 L996.4 2511.9 L996.9 2506.8 L997.4 2501.7 L997.9 2496.5 L998.4 2491.3 L998.9 2486.0 L999.4 2480.8 L999.9 2475.4 L1000.4 2470.1 L1000.9 2464.7 L1001.4 2459.2 L1001.9 2453.8 L1002.4 2448.3 L1002.9 2442.8 L1003.4 2437.2 L1003.9 2431.6 L1004.4 2426.0 L1004.9 2420.4 L1005.4 2414.8 L1005.9 2409.1 L1006.4 2403.5 L1006.9 2397.8 L1007.4 2392.1 L1007.9 2386.4 L1008.4 2380.6 L1008.9 2374.9 L1009.4 2369.2 L1009.9 2363.4 L1010.4 2357.7 L1010.9 2351.9 L1011.4 2346.2 L1011.9 2340.4 L1012.4 2334.7 L1012.9 2328.9 L1013.4 2323.2 L1013.9 2317.4 L1014.4 2311.7 L1014.9 2306.0 L1015.4 2300.3 L1015.9 2294.6 L1016.4 2288.9 L1016.9 2283.3 L1017.4 2277.6 L1017.9 2272.0 L1018.4 2266.4 L1018.9 2260.8 L1019.4 2255.3 L1019.9 2249.8 L1020.4 2244.3 L1020.9 2238.8 L1021.4 2233.4 L1021.9 2228.0 L1022.4 2222.6 L1022.9 2217.3 L1023.4 2212.0 L1023.9 2206.7 L1024.4 2201.5 L1024.9 2196.3 L1025.4 2191.1 L1025.9 2186.0 L1026.4 2181.0 L1026.9 2175.9 L1027.4 2171.0 L1027.9 2166.0 L1028.4 2161.1 L1028.9 2156.3 L1029.4 2151.5 L1029.9 2146.7 L1030.4 2142.0 L1030.9 2137.4 L1031.4 2132.8 L1031.9 2128.2 L1032.4 2123.7 L1032.9 2119.2 L1033.4 2114.8 L1033.9 2110.5 L1034.4 2106.2 L1034.9 2102.0 L1035.4 2097.8 L1035.9 2093.7 L1036.4 2089.6 L1036.9 2085.6 L1037.4 2081.7 L1037.9 2077.8 L1038.4 2074.0 L1038.9 2070.2 L1039.4 2066.5 L1039.9 2062.9 L1040.4 2059.4 L1040.9 2055.9 L1041.4 2052.4 L1041.9 2049.1 L1042.4 2045.8 L1042.9 2042.6 L1043.4 2039.4 L1043.9 2036.3 L1044.4 2033.2 L1044.9 2030.2 L1045.4 2027.3 L1045.9 2024.5 L1046.4 2021.7 L1046.9 2018.9 L1047.4 2016.2 L1047.9 2013.6 L1048.4 2011.0 L1048.9 2008.5 L1049.4 2006.0 L1049.9 2003.6 L1050.4 2001.3 L1050.9 1999.0 L1051.4 1996.8 L1051.9 1994.6 L1052.4 1992.5 L1052.9 1990.4 L1053.4 1988.4 L1053.9 1986.4 L1054.4 1984.5 L1054.9 1982.6 L1055.4 1980.8 L1055.9 1979.0 L1056.4 1977.3 L1056.9 1975.6 L1057.4 1974.0 L1057.9 1972.4 L1058.4 1970.9 L1058.9 1969.4 L1059.4 1968.0 L1059.9 1966.6 L1060.4 1965.2 L1060.9 1963.9 L1061.4 1962.7 L1061.9 1961.5 L1062.4 1960.3 L1062.9 1959.2 L1063.4 1958.1 L1063.9 1957.0 L1064.4 1956.0 L1064.9 1955.1 L1065.4 1954.1 L1065.9 1953.2 L1066.4 1952.4 L1066.9 1951.6 L1067.4 1950.8 L1067.9 1950.1 L1068.4 1949.4 L1068.9 1948.7 L1069.4 1948.1 L1070.4 1947.0 L1071.4 1946.1 L1072.4 1945.3 L1073.4 1944.7 L1075.4 1944.0 L1078.4 1944.3 L1079.9 1945.1 L1080.9 1945.8 L1081.9 1946.7 L1082.9 1947.9 L1083.4 1948.5 L1083.9 1949.2 L1084.4 1949.9 L1084.9 1950.7 L1085.4 1951.5 L1085.9 1952.4 L1086.4 1953.3 L1086.9 1954.3 L1087.4 1955.3 L1087.9 1956.4 L1088.4 1957.6 L1088.9 1958.8 L1089.4 1960.0 L1089.9 1961.3 L1090.4 1962.7 L1090.9 1964.1 L1091.4 1965.5 L1091.9 1967.0 L1092.4 1968.6 L1092.9 1970.2 L1093.4 1971.9 L1093.9 1973.6 L1094.4 1975.4 L1094.9 1977.2 L1095.4 1979.1 L1095.9 1981.1 L1096.4 1983.1 L1096.9 1985.2 L1097.4 1987.3 L1097.9 1989.5 L1098.4 1991.7 L1098.9 1994.0 L1099.4 1996.4 L1099.9 1998.8 L1100.4 2001.2 L1100.9 2003.8 L1101.4 2006.4 L1101.9 2009.0 L1102.4 2011.7 L1102.9 2014.5 L1103.4 2017.3 L1103.9 2020.2 L1104.4 2023.2 L1104.9 2026.2 L1105.4 2029.3 L1105.9 2032.5 L1106.4 2035.7 L1106.9 2038.9 L1107.4 2042.3 L1107.9 2045.7 L1108.4 2049.1 L1108.9 2052.7 L1109.4 2056.3 L1109.9 2059.9 L1110.4 2063.6 L1110.9 2067.4 L1111.4 2071.3 L1111.9 2075.2 L1112.4 2079.2 L1112.9 2083.3 L1113.4 2087.4 L1113.9 2091.6 L1114.4 2095.8 L1114.9 2100.2 L1115.4 2104.6 L1115.9 2109.0 L1116.4 2113.5 L1116.9 2118.1 L1117.4 2122.8 L1117.9 2127.5 L1118.4 2132.3 L1118.9 2137.2 L1119.4 2142.1 L1119.9 2147.1 L1120.4 2152.1 L1120.9 2157.2 L1121.4 2162.4 L1121.9 2167.6 L1122.4 2172.9 L1122.9 2178.3 L1123.4 2183.7 L1123.9 2189.2 L1124.4 2194.7 L1124.9 2200.3 L1125.4 2205.9 L1125.9 2211.6 L1126.4 2217.4 L1126.9 2223.2 L1127.4 2229.1 L1127.9 2235.0 L1128.4 2241.0 L1128.9 2247.1 L1129.4 2253.2 L1129.9 2259.3 L1130.4 2265.5 L1130.9 2271.8 L1131.4 2278.1 L1131.9 2284.5 L1132.4 2290.9 L1132.9 2297.4 L1133.4 2303.9 L1133.9 2310.5 L1134.4 2317.1 L1134.9 2323.8 L1135.4 2330.5 L1135.9 2337.3 L1136.4 2344.2 L1136.9 2351.1 L1137.4 2358.1 L1137.9 2365.1 L1138.4 2372.2 L1138.9 2379.3 L1139.4 2386.5 L1139.9 2393.8 L1140.4 2401.1 L1140.9 2408.5 L1141.4 2415.9 L1141.9 2423.3 L1142.4 2430.8 L1142.9 2438.3 L1143.4 2445.8 L1143.9 2453.3 L1144.4 2460.8 L1144.9 2468.2 L1145.4 2475.6 L1145.9 2482.9 L1146.4 2490.1 L1146.9 2497.3 L1147.4 2504.4 L1147.9 2511.4 L1148.4 2518.3 L1148.9 2525.0 L1149.4 2531.6 L1149.9 2538.1 L1150.4 2544.5 L1150.9 2550.8 L1151.4 2556.9 L1151.9 2562.9 L1152.4 2568.9 L1152.9 2574.7 L1153.4 2580.4 L1153.9 2585.9 L1154.4 2591.4 L1154.9 2596.8 L1155.4 2602.1 L1155.9 2607.3 L1156.4 2612.4 L1156.9 2617.3 L1157.4 2622.2 L1157.9 2627.0 L1158.4 2631.8 L1158.9 2636.4 L1159.4 2640.9 L1159.9 2645.4 L1160.4 2649.8 L1160.9 2654.1 L1161.4 2658.3 L1161.9 2662.4 L1162.4 2666.5 L1162.9 2670.5 L1163.4 2674.4 L1163.9 2678.3 L1164.4 2682.1 L1164.9 2685.8 L1165.4 2689.5 L1165.9 2693.1 L1166.4 2696.6 L1166.9 2700.1 L1167.4 2703.5 L1167.9 2706.9 L1168.4 2710.3 L1168.9 2713.5 L1169.4 2716.8 L1169.9 2720.0 L1170.4 2723.1 L1170.9 2726.2 L1171.4 2729.3 L1171.9 2732.3 L1172.4 2735.3 L1172.9 2738.3 L1173.4 2741.2 L1173.9 2744.1 L1174.4 2746.9 L1174.9 2749.8 L1175.4 2752.6 L1175.9 2755.3 L1176.4 2758.0 L1176.9 2760.7 L1177.4 2763.4 L1177.9 2766.0 L1178.4 2768.6 L1178.9 2771.1 L1179.4 2773.6 L1179.9 2776.1 L1180.4 2778.6 L1180.9 2781.0 L1181.4 2783.4 L1181.9 2785.8 L1182.4 2788.1 L1182.9 2790.4 L1183.4 2792.7 L1183.9 2794.9 L1184.4 2797.1 L1184.9 2799.3 L1185.4 2801.5 L1185.9 2803.6 L1186.4 2805.7 L1186.9 2807.8 L1187.4 2809.8 L1187.9 2811.8 L1188.4 2813.8 L1188.9 2815.8 L1189.4 2817.7 L1189.9 2819.6 L1190.4 2821.5 L1190.9 2823.4 L1191.4 2825.2 L1191.9 2827.0 L1192.4 2828.8 L1192.9 2830.6 L1193.4 2832.3 L1193.9 2834.0 L1194.4 2835.7 L1194.9 2837.4 L1195.4 2839.0 L1195.9 2840.6 L1196.4 2842.2 L1196.9 2843.8 L1197.4 2845.3 L1197.9 2846.8 L1198.4 2848.4 L1198.9 2849.8 L1199.4 2851.3 L1199.9 2852.7 L1200.4 2854.2 L1200.9 2855.6 L1201.4 2856.9 L1201.9 2858.3 L1202.4 2859.6 L1202.9 2861.0 L1203.4 2862.3 L1203.9 2863.5 L1204.4 2864.8 L1204.9 2866.1 L1205.4 2867.3 L1205.9 2868.5 L1206.4 2869.7 L1206.9 2870.9 L1207.4 2872.0 L1207.9 2873.2 L1208.4 2874.3 L1208.9 2875.4 L1209.4 2876.5 L1209.9 2877.6 L1210.4 2878.7 L1210.9 2879.7 L1211.4 2880.7 L1211.9 2881.8 L1212.4 2882.8 L1212.9 2883.8 L1213.4 2884.7 L1213.9 2885.7 L1214.4 2886.7 L1214.9 2887.6 L1215.4 2888.5 L1215.9 2889.5 L1216.4 2890.4 L1216.9 2891.3 L1217.4 2892.1 L1217.9 2893.0 L1218.4 2893.9 L1218.9 2894.7 L1219.4 2895.6 L1219.9 2896.4 L1220.4 2897.2 L1220.9 2898.0 L1221.4 2898.8 L1221.9 2899.6 L1222.4 2900.4 L1222.9 2901.2 L1223.4 2902.0 L1223.9 2902.7 L1224.4 2903.5 L1224.9 2904.2 L1225.4 2905.0 L1225.9 2905.7 L1226.4 2906.4 L1226.9 2907.1 L1227.4 2907.9 L1227.9 2908.6 L1228.4 2909.3 L1228.9 2910.0 L1229.4 2910.6 L1229.9 2911.3 L1230.4 2912.0 L1230.9 2912.7 L1231.4 2913.3 L1231.9 2914.0 L1232.4 2914.6 L1232.9 2915.3 L1233.4 2915.9 L1233.9 2916.6 L1234.4 2917.2 L1234.9 2917.8 L1235.4 2918.4 L1235.9 2919.0 L1236.4 2919.6 L1237.4 2920.8 L1238.4 2922.0 L1239.4 2923.1 L1240.4 2924.2 L1241.4 2925.3 L1242.4 2926.4 L1243.4 2927.5 L1244.4 2928.5 L1245.4 2929.5 L1246.4 2930.5 L1247.4 2931.5 L1248.4 2932.4 L1249.4 2933.4 L1250.4 2934.3 L1251.4 2935.2 L1252.4 2936.1 L1253.4 2936.9 L1254.4 2937.7 L1255.4 2938.6 L1256.4 2939.4 L1257.4 2940.2 L1258.4 2940.9 L1259.4 2941.7 L1260.4 2942.4 L1261.4 2943.2 L1262.4 2943.9 L1263.4 2944.6 L1264.4 2945.2 L1265.4 2945.9 L1266.4 2946.5 L1267.4 2947.2 L1268.4 2947.8 L1269.4 2948.4 L1270.9 2949.3 L1272.4 2950.2 L1273.9 2951.0 L1275.4 2951.8 L1276.9 2952.6 L1278.4 2953.3 L1279.9 2954.1 L1281.4 2954.8 L1282.9 2955.5 L1284.4 2956.2 L1285.9 2956.8 L1287.4 2957.5 L1288.9 2958.1 L1290.4 2958.7 L1292.4 2959.5 L1294.4 2960.2 L1296.4 2960.9 L1298.4 2961.6 L1300.4 2962.3 L1302.4 2963.0 L1304.4 2963.6 L1306.4 2964.2 L1308.9 2964.9 L1311.4 2965.7 L1313.9 2966.3 L1316.4 2967.0 L1318.9 2967.6 L1321.9 2968.3 L1324.9 2969.0 L1327.9 2969.6 L1330.9 2970.2 L1333.9 2970.8 L1336.9 2971.4 L1339.9 2972.0 L1342.9 2972.5 L1345.9 2973.1 L1348.9 2973.6 L1351.9 2974.1 L1354.9 2974.6 L1357.9 2975.1 L1360.9 2975.6 L1363.9 2976.0 L1366.9 2976.5 L1369.9 2976.9 L1372.9 2977.4 L1375.9 2977.8 L1378.9 2978.2 L1381.9 2978.6 L1384.9 2979.0 L1387.9 2979.3 L1390.9 2979.7 L1393.9 2980.1 L1396.9 2980.4 L1399.9 2980.7 L1402.9 2981.1 L1405.9 2981.4 L1408.9 2981.7 L1411.9 2982.0 L1414.9 2982.3 L1417.9 2982.5 L1420.9 2982.8 L1423.9 2983.1 L1426.9 2983.3 L1429.9 2983.6 L1432.9 2983.8 L1435.9 2984.0 L1438.9 2984.3 L1441.9 2984.5 L1444.9 2984.7 L1447.9 2984.9 L1450.9 2985.1 L1453.9 2985.3 L1456.9 2985.4 L1459.9 2985.6 L1462.9 2985.8 L1465.9 2985.9 L1468.9 2986.1 L1471.9 2986.3 L1474.9 2986.4 L1477.9 2986.5 L1480.9 2986.7 L1483.9 2986.8 L1486.9 2986.9 L1489.9 2987.0 L1492.9 2987.2 L1495.9 2987.3 L1498.9 2987.4 L1501.9 2987.5 L1504.9 2987.6 L1507.9 2987.7 L1510.9 2987.8 L1513.9 2987.8 L1516.9 2987.9 L1519.9 2988.0 L1522.9 2988.1 L1525.9 2988.2 L1528.9 2988.2 L1531.9 2988.3 L1534.9 2988.4 L1537.9 2988.4 L1540.9 2988.5 L1543.9 2988.6 L1546.9 2988.6 L1549.9 2988.7 L1552.9 2988.7 L1555.9 2988.8 L1558.9 2988.9 L1561.9 2988.9 L1564.9 2989.0 L1567.9 2989.0 L1570.9 2989.1 L1573.9 2989.1 L1576.9 2989.2 L1579.9 2989.3 L1582.9 2989.3 L1585.9 2989.4 L1588.9 2989.4 L1591.9 2989.5 L1594.9 2989.6 L1597.9 2989.6 L1600.9 2989.7 L1603.9 2989.7 L1606.9 2989.8 L1609.9 2989.9 L1612.9 2990.0 L1615.9 2990.0 L1618.9 2990.1 L1621.9 2990.2 L1624.9 2990.3 L1626.9 2990.3" fill="none" stroke="#000" stroke-width="5.7" stroke-linejoin="round" stroke-linecap="round"/>
<line x1="811.2" y1="2681.3" x2="590" y2="2681.3" stroke="#ff0000" stroke-width="1.8"/>
<polygon points="564.2,2681.3 598,2673.3 598,2689.3" fill="#ff0000"/>
<line x1="1149" y1="2513" x2="1370" y2="2513" stroke="#000" stroke-width="1.8"/>
<polygon points="1397.5,2513 1363.8,2504.8 1363.8,2521.2" fill="#000"/>
<text transform="translate(245.72,1467.88) scale(0.9825,1.0079)" font-family="'Liberation Sans', Arial, sans-serif" font-size="84" fill="#000">0</text>
<text transform="translate(202.33,1191.15) scale(0.9517,1.0079)" font-family="'Liberation Sans', Arial, sans-serif" font-size="84" fill="#000">50</text>
<text transform="translate(159.76,914.42) scale(0.9383,1.0079)" font-family="'Liberation Sans', Arial, sans-serif" font-size="84" fill="#000">100</text>
<text transform="translate(159.76,637.69) scale(0.9383,1.0079)" font-family="'Liberation Sans', Arial, sans-serif" font-size="84" fill="#000">150</text>
<text transform="translate(154.88,360.96) scale(0.9739,1.0079)" font-family="'Liberation Sans', Arial, sans-serif" font-size="84" fill="#000">200</text>
<text transform="translate(154.88,84.23) scale(0.9739,1.0079)" font-family="'Liberation Sans', Arial, sans-serif" font-size="84" fill="#000">250</text>
<text transform="translate(479.27,1591.92) scale(0.9226,1.0200)" font-family="'Liberation Sans', Arial, sans-serif" font-size="84" fill="#000">5</text>
<text transform="translate(812.86,1591.93) scale(0.9226,1.0028)" font-family="'Liberation Sans', Arial, sans-serif" font-size="84" fill="#000">10</text>
<text transform="translate(1167.79,1591.92) scale(0.9335,1.0200)" font-family="'Liberation Sans', Arial, sans-serif" font-size="84" fill="#000">15</text>
<text transform="translate(1521.69,1591.93) scale(0.9226,1.0028)" font-family="'Liberation Sans', Arial, sans-serif" font-size="84" fill="#000">20</text>
<text transform="translate(1874.02,1591.93) scale(0.9887,1.0028)" font-family="'Liberation Sans', Arial, sans-serif" font-size="84" fill="#000">25</text>
<text transform="translate(609.18,1678.83) scale(0.9637,0.9709)" font-family="'Liberation Sans', Arial, sans-serif" font-weight="bold" font-size="98" fill="#000">Poling electric field(kV/cm)</text>
<text transform="translate(120.96,967.02) rotate(-90) scale(0.9808,1.0028)" font-family="'Liberation Sans', Arial, sans-serif" font-weight="bold" font-size="96" fill="#000">d<tspan font-size="66" dy="25">33</tspan><tspan dy="-25">(pC/N</tspan></text>
<text transform="translate(606.71,184.33) scale(0.9457,1.0045)" font-family="'Liberation Sans', Arial, sans-serif" font-size="84" fill="#000">1010</text>
<text transform="translate(807.41,181.62) scale(0.9474,0.9434)" font-family="'Liberation Serif', 'Times New Roman', serif" font-size="84" fill="#000">°</text>
<text transform="translate(838.34,184.32) scale(0.9830,1.0213)" font-family="'Liberation Sans', Arial, sans-serif" font-size="84" fill="#000">C</text>
<text transform="translate(606.71,294.23) scale(0.9457,1.0045)" font-family="'Liberation Sans', Arial, sans-serif" font-size="84" fill="#000">1020</text>
<text transform="translate(807.41,291.52) scale(0.9474,0.9434)" font-family="'Liberation Serif', 'Times New Roman', serif" font-size="84" fill="#000">°</text>
<text transform="translate(838.34,294.22) scale(0.9830,1.0213)" font-family="'Liberation Sans', Arial, sans-serif" font-size="84" fill="#000">C</text>
<text transform="translate(606.71,404.13) scale(0.9457,1.0045)" font-family="'Liberation Sans', Arial, sans-serif" font-size="84" fill="#000">1030</text>
<text transform="translate(807.41,401.42) scale(0.9474,0.9434)" font-family="'Liberation Serif', 'Times New Roman', serif" font-size="84" fill="#000">°</text>
<text transform="translate(838.34,404.12) scale(0.9830,1.0213)" font-family="'Liberation Sans', Arial, sans-serif" font-size="84" fill="#000">C</text>
<text transform="translate(606.71,514.03) scale(0.9457,1.0045)" font-family="'Liberation Sans', Arial, sans-serif" font-size="84" fill="#000">1040</text>
<text transform="translate(807.41,511.32) scale(0.9474,0.9434)" font-family="'Liberation Serif', 'Times New Roman', serif" font-size="84" fill="#000">°</text>
<text transform="translate(838.34,514.02) scale(0.9830,1.0213)" font-family="'Liberation Sans', Arial, sans-serif" font-size="84" fill="#000">C</text>
<text transform="translate(606.71,623.93) scale(0.9457,1.0045)" font-family="'Liberation Sans', Arial, sans-serif" font-size="84" fill="#000">1050</text>
<text transform="translate(807.41,621.22) scale(0.9474,0.9434)" font-family="'Liberation Serif', 'Times New Roman', serif" font-size="84" fill="#000">°</text>
<text transform="translate(838.34,623.92) scale(0.9830,1.0213)" font-family="'Liberation Sans', Arial, sans-serif" font-size="84" fill="#000">C</text>
<text transform="translate(1022.36,1821.96) scale(0.9372,0.9839)" font-family="'Liberation Serif', 'Times New Roman', serif" font-size="87" fill="#000">(<tspan font-weight="bold">a</tspan>)</text>
<text transform="translate(107.82,3149.40) scale(0.9647,1.0288)" font-family="'Liberation Sans', Arial, sans-serif" font-size="78" fill="#ff0000">2.4</text>
<text transform="translate(109.11,2746.59) scale(0.9647,1.0164)" font-family="'Liberation Sans', Arial, sans-serif" font-size="78" fill="#ff0000">2.8</text>
<text transform="translate(109.43,2344.46) scale(0.9647,1.0164)" font-family="'Liberation Sans', Arial, sans-serif" font-size="78" fill="#ff0000">3.2</text>
<text transform="translate(109.11,1942.32) scale(0.9647,1.0164)" font-family="'Liberation Sans', Arial, sans-serif" font-size="78" fill="#ff0000">3.6</text>
<text transform="translate(1905.38,1987.31) scale(0.9719,1.0127)" font-family="'Liberation Sans', Arial, sans-serif" font-size="78" fill="#000">30</text>
<text transform="translate(1906.14,2255.40) scale(0.9536,1.0127)" font-family="'Liberation Sans', Arial, sans-serif" font-size="78" fill="#000">0</text>
<text transform="translate(1905.07,2523.48) scale(0.9687,1.0127)" font-family="'Liberation Sans', Arial, sans-serif" font-size="78" fill="#000">-30</text>
<text transform="translate(1905.07,2791.57) scale(0.9687,1.0127)" font-family="'Liberation Sans', Arial, sans-serif" font-size="78" fill="#000">-60</text>
<text transform="translate(1905.07,3059.66) scale(0.9687,1.0127)" font-family="'Liberation Sans', Arial, sans-serif" font-size="78" fill="#000">-90</text>
<text transform="translate(180.22,3212.12) scale(0.9471,1.0145)" font-family="'Liberation Sans', Arial, sans-serif" font-size="78" fill="#000">120</text>
<text transform="translate(432.22,3212.12) scale(0.9471,1.0145)" font-family="'Liberation Sans', Arial, sans-serif" font-size="78" fill="#000">140</text>
<text transform="translate(684.22,3212.12) scale(0.9471,1.0145)" font-family="'Liberation Sans', Arial, sans-serif" font-size="78" fill="#000">160</text>
<text transform="translate(936.22,3212.12) scale(0.9471,1.0145)" font-family="'Liberation Sans', Arial, sans-serif" font-size="78" fill="#000">180</text>
<text transform="translate(1186.36,3212.12) scale(0.9471,1.0145)" font-family="'Liberation Sans', Arial, sans-serif" font-size="78" fill="#000">200</text>
<text transform="translate(1438.36,3212.12) scale(0.9471,1.0145)" font-family="'Liberation Sans', Arial, sans-serif" font-size="78" fill="#000">220</text>
<text transform="translate(1690.36,3212.12) scale(0.9471,1.0145)" font-family="'Liberation Sans', Arial, sans-serif" font-size="78" fill="#000">240</text>
<text transform="translate(311.82,2045.52) scale(0.9771,1.0210)" font-family="'Liberation Sans', Arial, sans-serif" font-size="78" fill="#000">f<tspan font-size="52" dy="21">s</tspan><tspan dy="-21">=180.5 kHz</tspan></text>
<text transform="translate(311.82,2158.03) scale(0.9784,1.0159)" font-family="'Liberation Sans', Arial, sans-serif" font-size="78" fill="#000">f<tspan font-size="52" dy="21">p</tspan><tspan dy="-21">=191.5 kHz</tspan></text>
<text transform="translate(310.61,2272.61) scale(0.9825,1.0235)" font-family="'Liberation Sans', Arial, sans-serif" font-size="78" fill="#000">Z<tspan font-size="52" dy="21">min</tspan><tspan dy="-21">=251.2 </tspan><tspan font-family="'Liberation Serif', 'Times New Roman', serif" font-size="74">Ω</tspan></text>
<text transform="translate(719.18,3293.70) scale(0.9366,0.9643)" font-family="'Liberation Sans', Arial, sans-serif" font-weight="bold" font-size="90" fill="#000">Frequency ( kHz )</text>
<text transform="translate(89.02,2717.76) rotate(-90) scale(0.9761,1.0082)" font-family="'Liberation Sans', Arial, sans-serif" font-weight="bold" font-size="87" fill="#ff0000">logZ ( <tspan font-family="'Liberation Serif', 'Times New Roman', serif" font-weight="bold">Ω</tspan> )</text>
<text transform="translate(2104.45,2615.57) rotate(-90) scale(0.9460,0.9859)" font-family="'Liberation Sans', Arial, sans-serif" font-weight="bold" font-size="87" fill="#000"><tspan font-family="'DejaVu Serif', 'Liberation Serif', 'Times New Roman', serif" font-weight="normal" font-size="75">θ</tspan> ( <tspan font-size="103">°</tspan> )</text>
<text transform="translate(1017.51,3434.06) scale(0.9798,0.9788)" font-family="'Liberation Serif', 'Times New Roman', serif" font-size="87" fill="#000">(<tspan font-weight="bold">b</tspan>)</text>
</svg>
</body></html>
